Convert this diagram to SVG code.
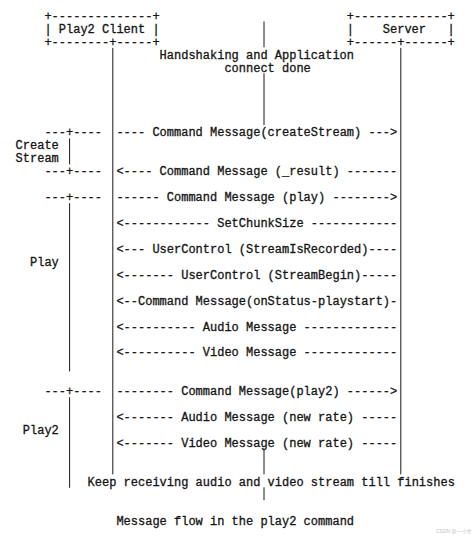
<svg xmlns="http://www.w3.org/2000/svg" width="474" height="536" viewBox="0 0 474 536" xml:space="preserve">
<style>
.t{font-family:"Liberation Mono","Courier New",monospace;font-size:12px;fill:#141414;stroke:#141414;stroke-width:0.3;white-space:pre}
.l{stroke:#1a1a1a;stroke-width:1;fill:none}
.wm{font-family:"Liberation Sans","Noto Sans CJK SC",sans-serif;font-size:5px;fill:#c4c4c4}
</style>
<rect width="474" height="536" fill="#ffffff"/>
<g id="client">
<text class="t" x="44.4" y="20">+--------------+</text>
<text class="t" x="44.4" y="32.94">| Play2 Client |</text>
<text class="t" x="44.4" y="45.88">+--------+-----+</text>
</g>
<g id="server">
<text class="t" x="346.8" y="20">+-------------+</text>
<text class="t" x="346.8" y="32.94">|    Server   |</text>
<text class="t" x="346.8" y="45.88">+------+------+</text>
</g>
<g id="handshake">
<text class="t" x="159.6" y="59.32">Handshaking and Application</text>
<text class="t" x="224.4" y="72.26">connect done</text>
</g>
<g id="phase-create-stream">
<text class="t" x="44.4" y="136.46">---+----</text>
<text class="t" x="15.6" y="149.4">Create</text>
<text class="t" x="15.6" y="162.34">Stream</text>
<text class="t" x="44.4" y="175.28">---+----</text>
<line class="l" x1="69.6" y1="138.43" x2="69.6" y2="164.31"/>
</g>
<g id="phase-play">
<text class="t" x="44.4" y="201.16">---+----</text>
<text class="t" x="30" y="265.86">Play</text>
<line class="l" x1="69.6" y1="203.13" x2="69.6" y2="371.35"/>
</g>
<g id="phase-play2">
<text class="t" x="44.4" y="395.26">---+----</text>
<text class="t" x="22.8" y="434.08">Play2</text>
<line class="l" x1="69.6" y1="397.23" x2="69.6" y2="487.81"/>
</g>
<g id="lifelines">
<line class="l" x1="264" y1="21.5" x2="264" y2="47.35"/>
<line class="l" x1="264" y1="73.23" x2="264" y2="124.99"/>
<line class="l" x1="264" y1="448.49" x2="264" y2="474.37"/>
<line class="l" x1="264" y1="487.31" x2="264" y2="500.25"/>
<line class="l" x1="112.8" y1="47.85" x2="112.8" y2="474.37"/>
<line class="l" x1="400.8" y1="47.85" x2="400.8" y2="474.37"/>
</g>
<g id="connectors">
<text class="t" x="116.4" y="136.46">---- Command Message(createStream) ---&gt;</text>
<text class="t" x="116.4" y="175.28">&lt;---- Command Message (_result) -------</text>
<text class="t" x="116.4" y="201.16">------ Command Message (play) --------&gt;</text>
<text class="t" x="116.4" y="227.04">&lt;------------ SetChunkSize ------------</text>
<text class="t" x="116.4" y="252.92">&lt;--- UserControl (StreamIsRecorded)----</text>
<text class="t" x="116.4" y="278.8">&lt;------- UserControl (StreamBegin)-----</text>
<text class="t" x="116.4" y="304.68">&lt;--Command Message(onStatus-playstart)-</text>
<text class="t" x="116.4" y="330.56">&lt;---------- Audio Message -------------</text>
<text class="t" x="116.4" y="356.44">&lt;---------- Video Message -------------</text>
<text class="t" x="116.4" y="395.26">-------- Command Message(play2) ------&gt;</text>
<text class="t" x="116.4" y="421.14">&lt;------- Audio Message (new rate) -----</text>
<text class="t" x="116.4" y="447.02">&lt;------- Video Message (new rate) -----</text>
</g>
<g id="footer">
<text class="t" x="87.6" y="485.84">Keep receiving audio and video stream till finishes</text>
<text class="t" x="116.4" y="524.66">Message flow in the play2 command</text>
<text class="wm" x="436" y="533">CSDN @一小生</text>
</g>
</svg>
